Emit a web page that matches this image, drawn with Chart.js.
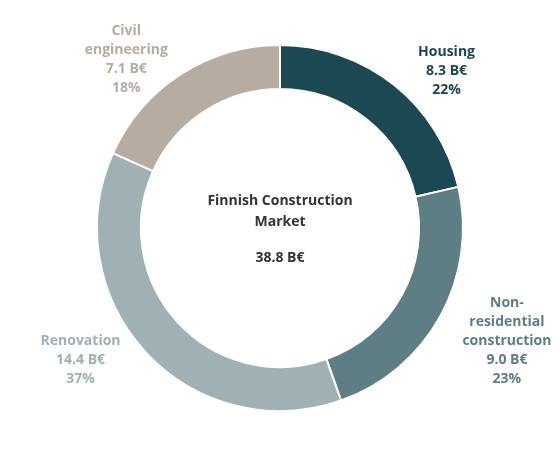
<!DOCTYPE html>
<html><head><meta charset="utf-8">
<script src="https://cdn.jsdelivr.net/npm/chart.js@4"></script>
<style>html,body{margin:0;background:#fff}#w{width:560px;height:459px}</style>
</head><body><div id="w"><canvas id="c"></canvas></div>
<script>
const categories = ["Housing","Non-residential construction","Renovation","Civil engineering"];
const values = [8.3, 9.0, 14.4, 7.1];
const shares = ["22%","23%","37%","18%"];
const labelLines = [["Housing"],["Non-","residential","construction"],["Renovation"],["Civil","engineering"]];
const colors = ["#1a4853","#5d7e85","#9fb1b5","#b7aca2"];
const textColors = ["#1a4853","#5d7e85","#9fb1b5","#b7aca2"];
const labelPos = [[0.91,-0.86],[1.24,0.62],[-1.09,0.72],[-0.84,-0.92]];
const total = "38.8 B€";
const F = "'Open Sans', sans-serif";

const labels = {
  id:'labels',
  afterDraw(chart){
    const ctx = chart.ctx;
    const arc = chart.getDatasetMeta(0).data[0];
    const cx = arc.x, cy = arc.y, R = arc.outerRadius;
    ctx.save();
    ctx.textAlign='center'; ctx.textBaseline='middle';
    ctx.font = `bold 14px ${F}`;
    values.forEach((v,i)=>{
      const lines = [...labelLines[i], v.toFixed(1)+" B€", shares[i]];
      const x = cx + R*labelPos[i][0], y0 = cy + R*labelPos[i][1];
      const lh = 19, start = y0 - (lines.length-1)*lh/2;
      ctx.fillStyle = textColors[i];
      lines.forEach((l,k)=>ctx.fillText(l,x,start+k*lh));
    });
    ctx.fillStyle = '#333';
    ctx.fillText("Finnish Construction", cx, cy-27);
    ctx.fillText("Market", cy? cx:cx, cy-6);
    ctx.fillText(total, cx, cy+30);
    ctx.restore();
  }
};

new Chart(document.getElementById('c'),{
  type:'doughnut',
  data:{labels:categories,datasets:[{data:values,backgroundColor:colors,borderColor:'#fff',borderWidth:2}]},
  options:{responsive:true,maintainAspectRatio:false,animation:false,cutout:'76%',
    layout:{padding:{top:44,bottom:47,left:96,right:96}},
    plugins:{legend:{display:false},tooltip:{enabled:false}}},
  plugins:[labels]
});
</script></body></html>
